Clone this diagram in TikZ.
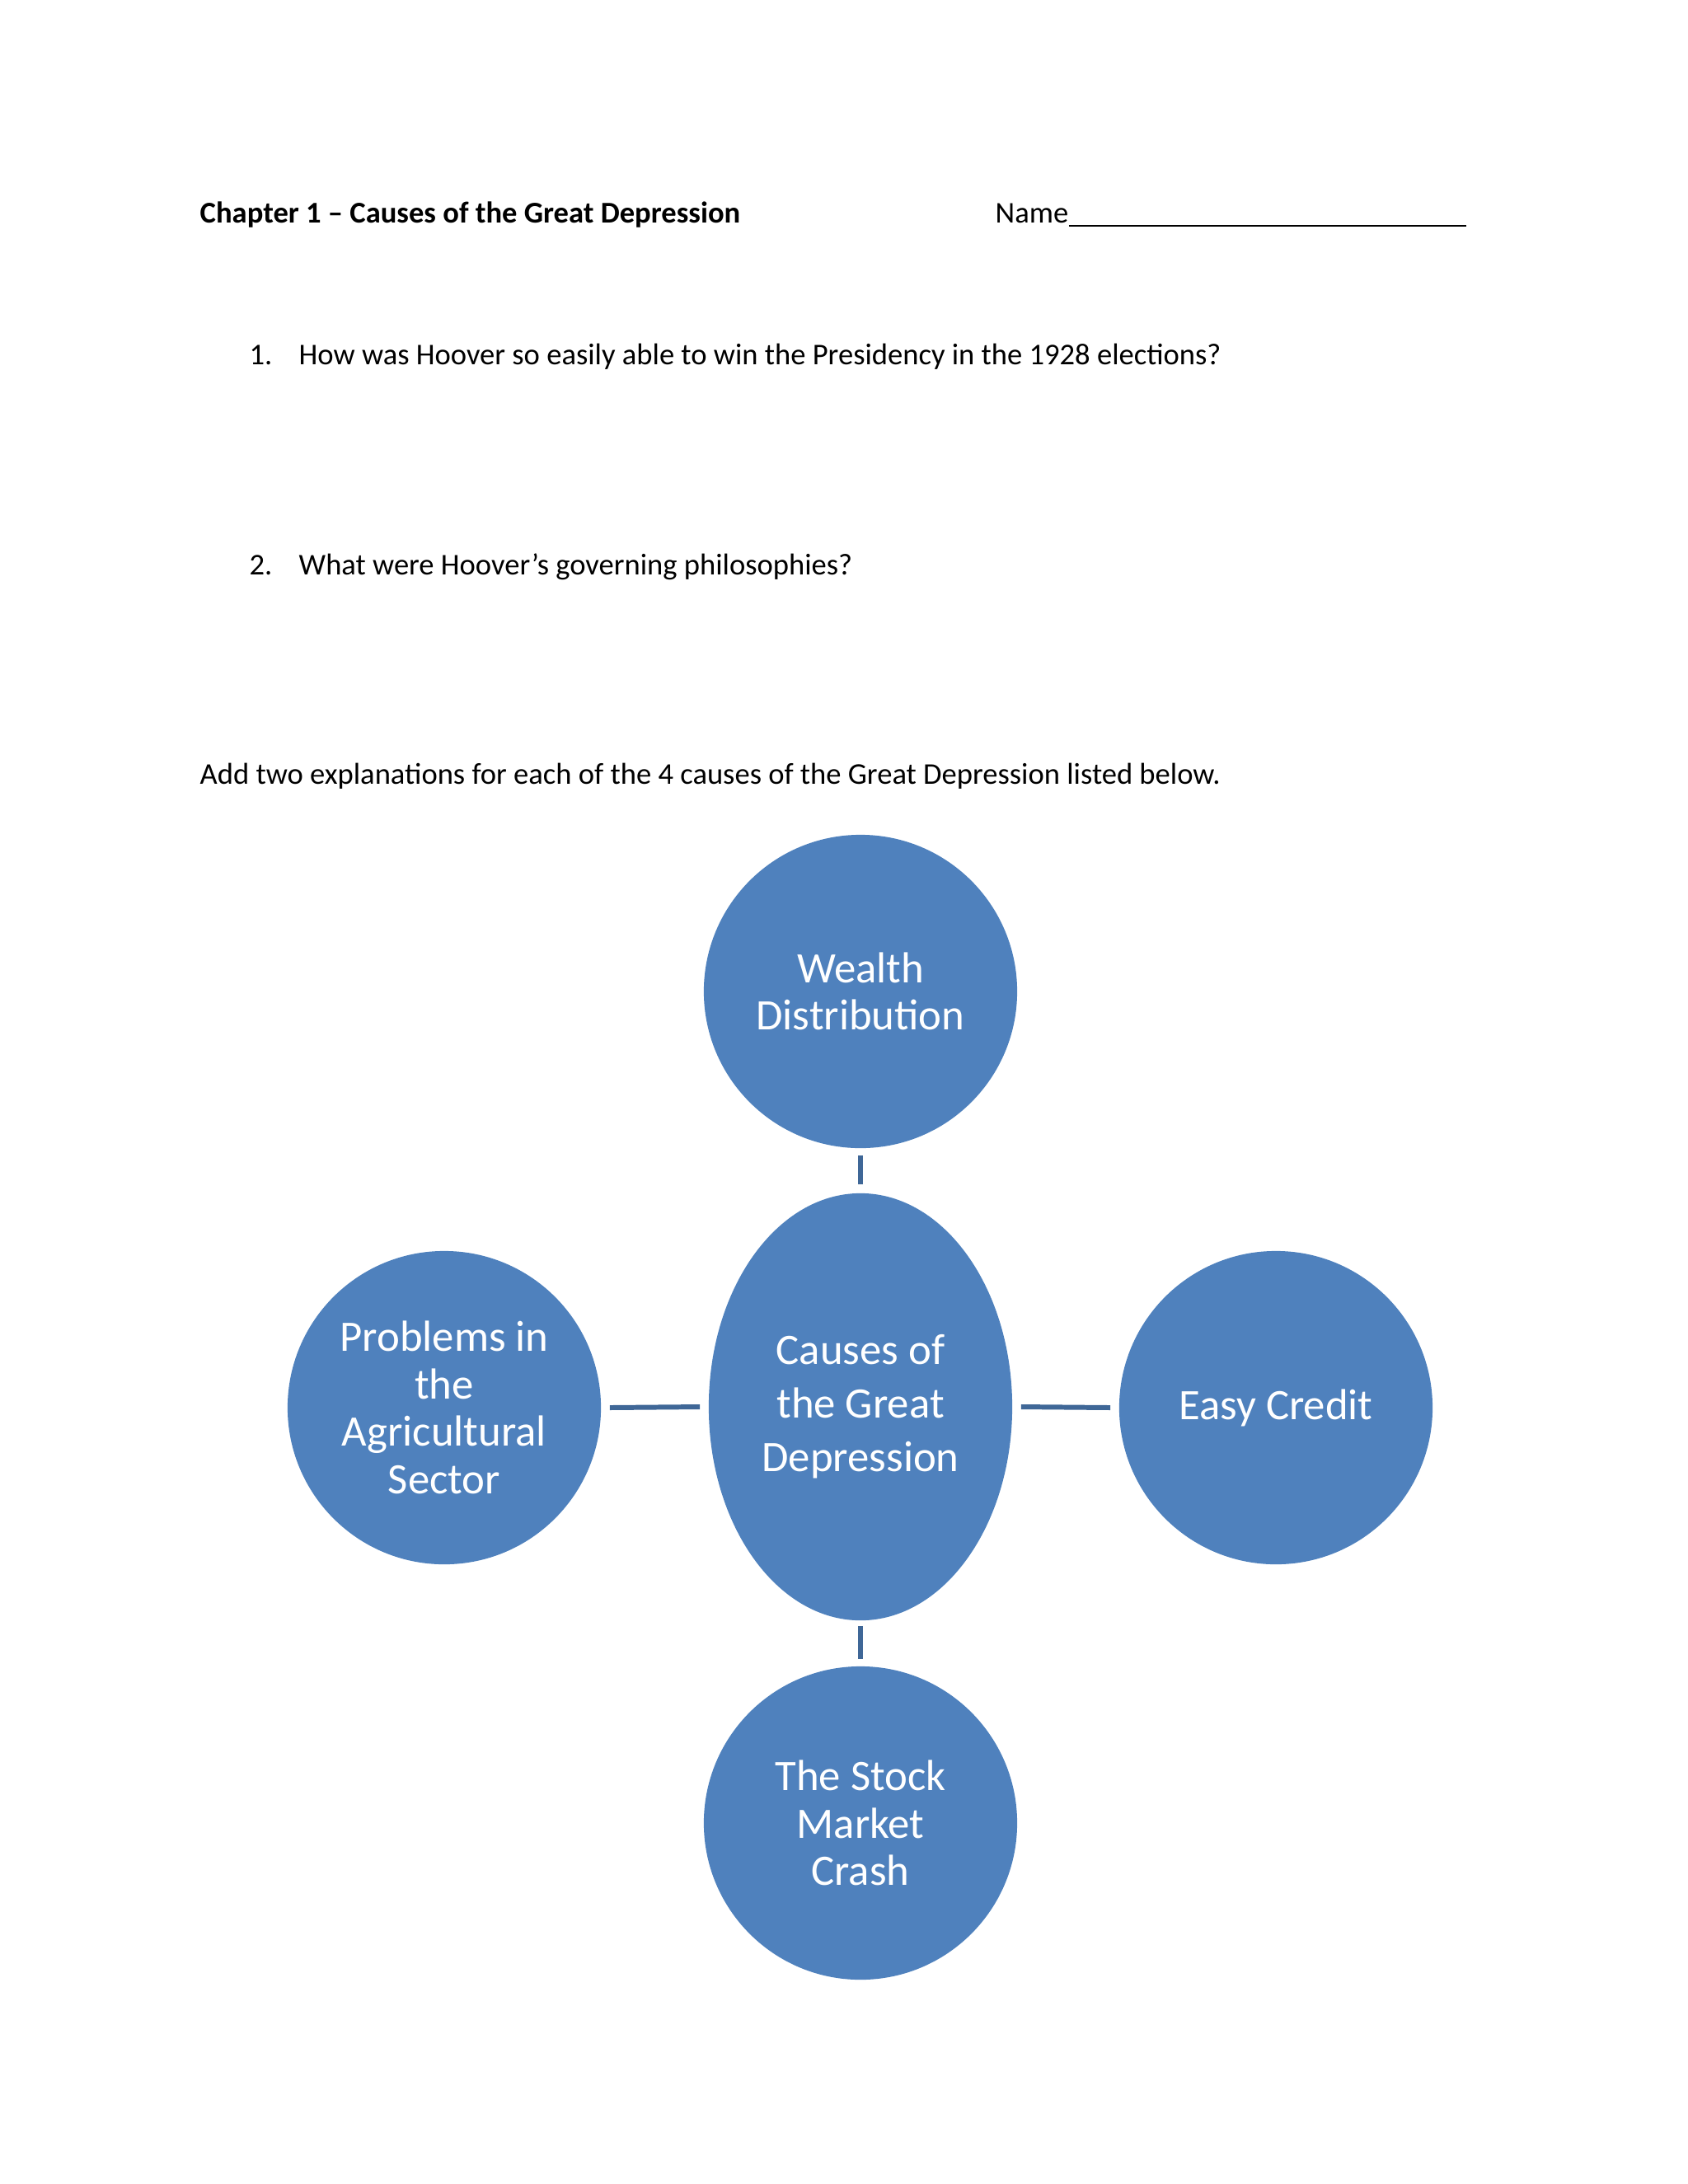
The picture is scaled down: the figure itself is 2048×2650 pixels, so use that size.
\documentclass[tikz,border=0pt]{standalone}
\usepackage{fontspec}
\setmainfont{Carlito}
\usetikzlibrary{shapes.geometric}
\definecolor{cfill}{HTML}{4F81BD}
\definecolor{cline}{HTML}{3F6797}
\tikzset{
 circ/.style={circle,fill=cfill,minimum size=3.8cm,inner sep=0,text=white,align=center,font=\fontsize{15}{16.4}\selectfont},
 conn/.style={cline,line width=1.7pt},
 body/.style={anchor=base west,inner sep=0,font=\fontsize{10.4}{12}\selectfont}
}
\begin{document}
\begin{tikzpicture}[x=0.01cm,y=-0.01cm]
\useasboundingbox (0,0) rectangle (2048,2650);
\node[body,font=\fontsize{10.4}{12}\selectfont\bfseries] (title) at (242,270) {Chapter 1 – Causes of the Great Depression};
\node[body] (name) at (1207,270) {Name};
\draw[line width=0.6pt] (name.base east) ++(0,4) coordinate (n1) -- ++(482,0);
\node[body] (n1q) at (302,442) {1.};
\node[body] (q1) at (362,442) {How was Hoover so easily able to win the Presidency in the 1928 elections?};
\node[body] (n2q) at (302,697) {2.};
\node[body] (q2) at (362,697) {What were Hoover’s governing philosophies?};
\node[body] (instr) at (242,951) {Add two explanations for each of the 4 causes of the Great Depression listed below.};
\node[ellipse,fill=cfill,minimum width=3.68cm,minimum height=5.18cm,inner sep=0,text=white,align=center,font=\fontsize{15}{18.5}\selectfont] (c) at (1044,1707) {Causes of\\the Great\\Depression};
\node[circ] (t) at (1044,1203) {Wealth\\Distribution};
\node[circ] (l) at (539,1708) {Problems in\\the\\Agricultural\\Sector};
\node[circ] (r) at (1548,1708) {Easy Credit};
\node[circ] (b) at (1044,2212) {The Stock\\Market\\Crash};
\draw[conn] ([yshift=-0.08cm]t.south) -- ([yshift=0.1cm]c.north);
\draw[conn] ([xshift=0.1cm]l.east) -- ([xshift=-0.1cm]c.west);
\draw[conn] ([xshift=0.1cm]c.east) -- ([xshift=-0.1cm]r.west);
\draw[conn] ([yshift=-0.06cm]c.south) -- ([yshift=0.08cm]b.north);
\end{tikzpicture}
\end{document}
